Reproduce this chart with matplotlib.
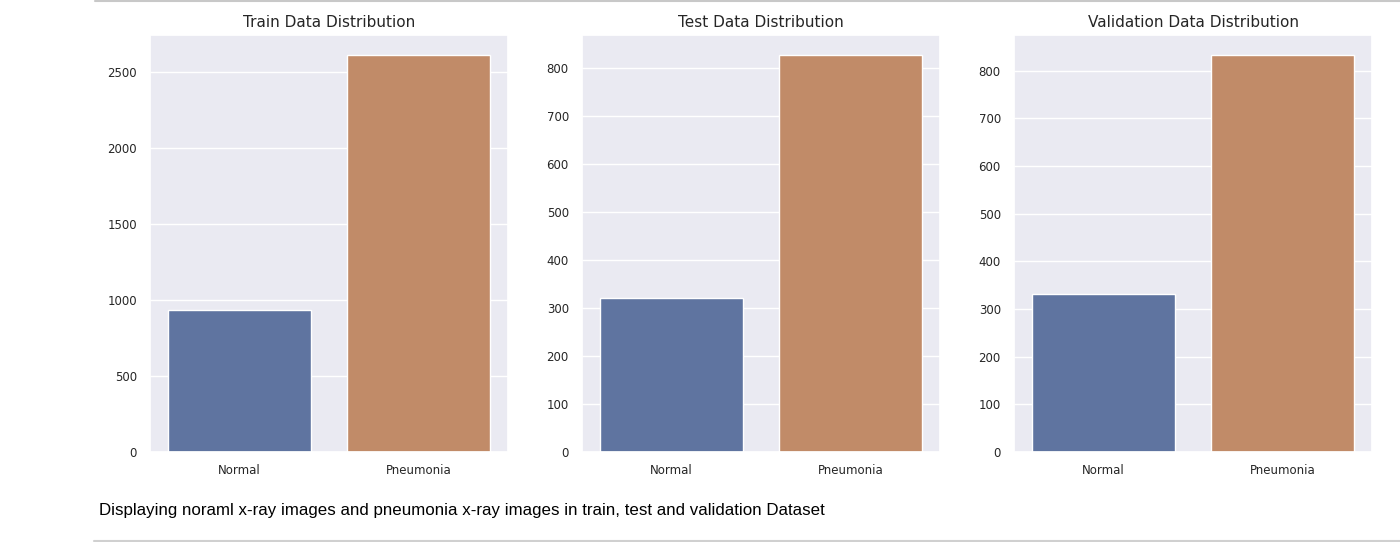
import numpy as np
import pandas as pd
import matplotlib
matplotlib.use("Agg")
import matplotlib.pyplot as plt
import seaborn as sns
from matplotlib.lines import Line2D

clases = ["Normal", "Pneumonia"]
train_counts = [931, 2613]
test_counts = [320, 827]
val_counts = [332, 833]
titulos = ["Train Data Distribution", "Test Data Distribution", "Validation Data Distribution"]
colores = ["#5f74a0", "#c18b68"]

sns.set_theme(style="darkgrid")

fig = plt.figure(figsize=(14, 5.42), dpi=100)
fig.patch.set_facecolor("white")

# posiciones de los tres ejes (fraccion de figura)
lefts = [150 / 1400, 582 / 1400, 1014 / 1400]
ancho = 358 / 1400
abajo = 90 / 542
alto = 417 / 542

for left, counts, titulo in zip(lefts, [train_counts, test_counts, val_counts], titulos):
    ax = fig.add_axes([left, abajo, ancho, alto])
    df = pd.DataFrame({"clase": clases, "n": counts})
    sns.barplot(data=df, x="clase", y="n", hue="clase", palette=colores, saturation=1,
                legend=False, ax=ax)
    ax.set_xlabel("")
    ax.set_ylabel("")
    ax.set_title(titulo, fontsize=11, color="#262626")
    ax.tick_params(axis="both", labelsize=8.5, colors="#262626")
    ax.tick_params(axis="x", pad=3)

# texto de pie
fig.text(99 / 1400, 1 - 511 / 542, "Displaying noraml x-ray images and pneumonia x-ray images in train, test and validation Dataset",
         fontsize=12.2, family="Liberation Sans", color="black", va="center", ha="left")

# bordes de la pagina
fig.add_artist(Line2D([95 / 1400, 1], [1 - 0.8 / 542, 1 - 0.8 / 542], color="#c8c8c8", lw=1.5, transform=fig.transFigure))
fig.add_artist(Line2D([94 / 1400, 1], [1.5 / 542, 1.5 / 542], color="#d0d0d0", lw=1.5, transform=fig.transFigure))

fig.savefig("out.png", dpi=100)
